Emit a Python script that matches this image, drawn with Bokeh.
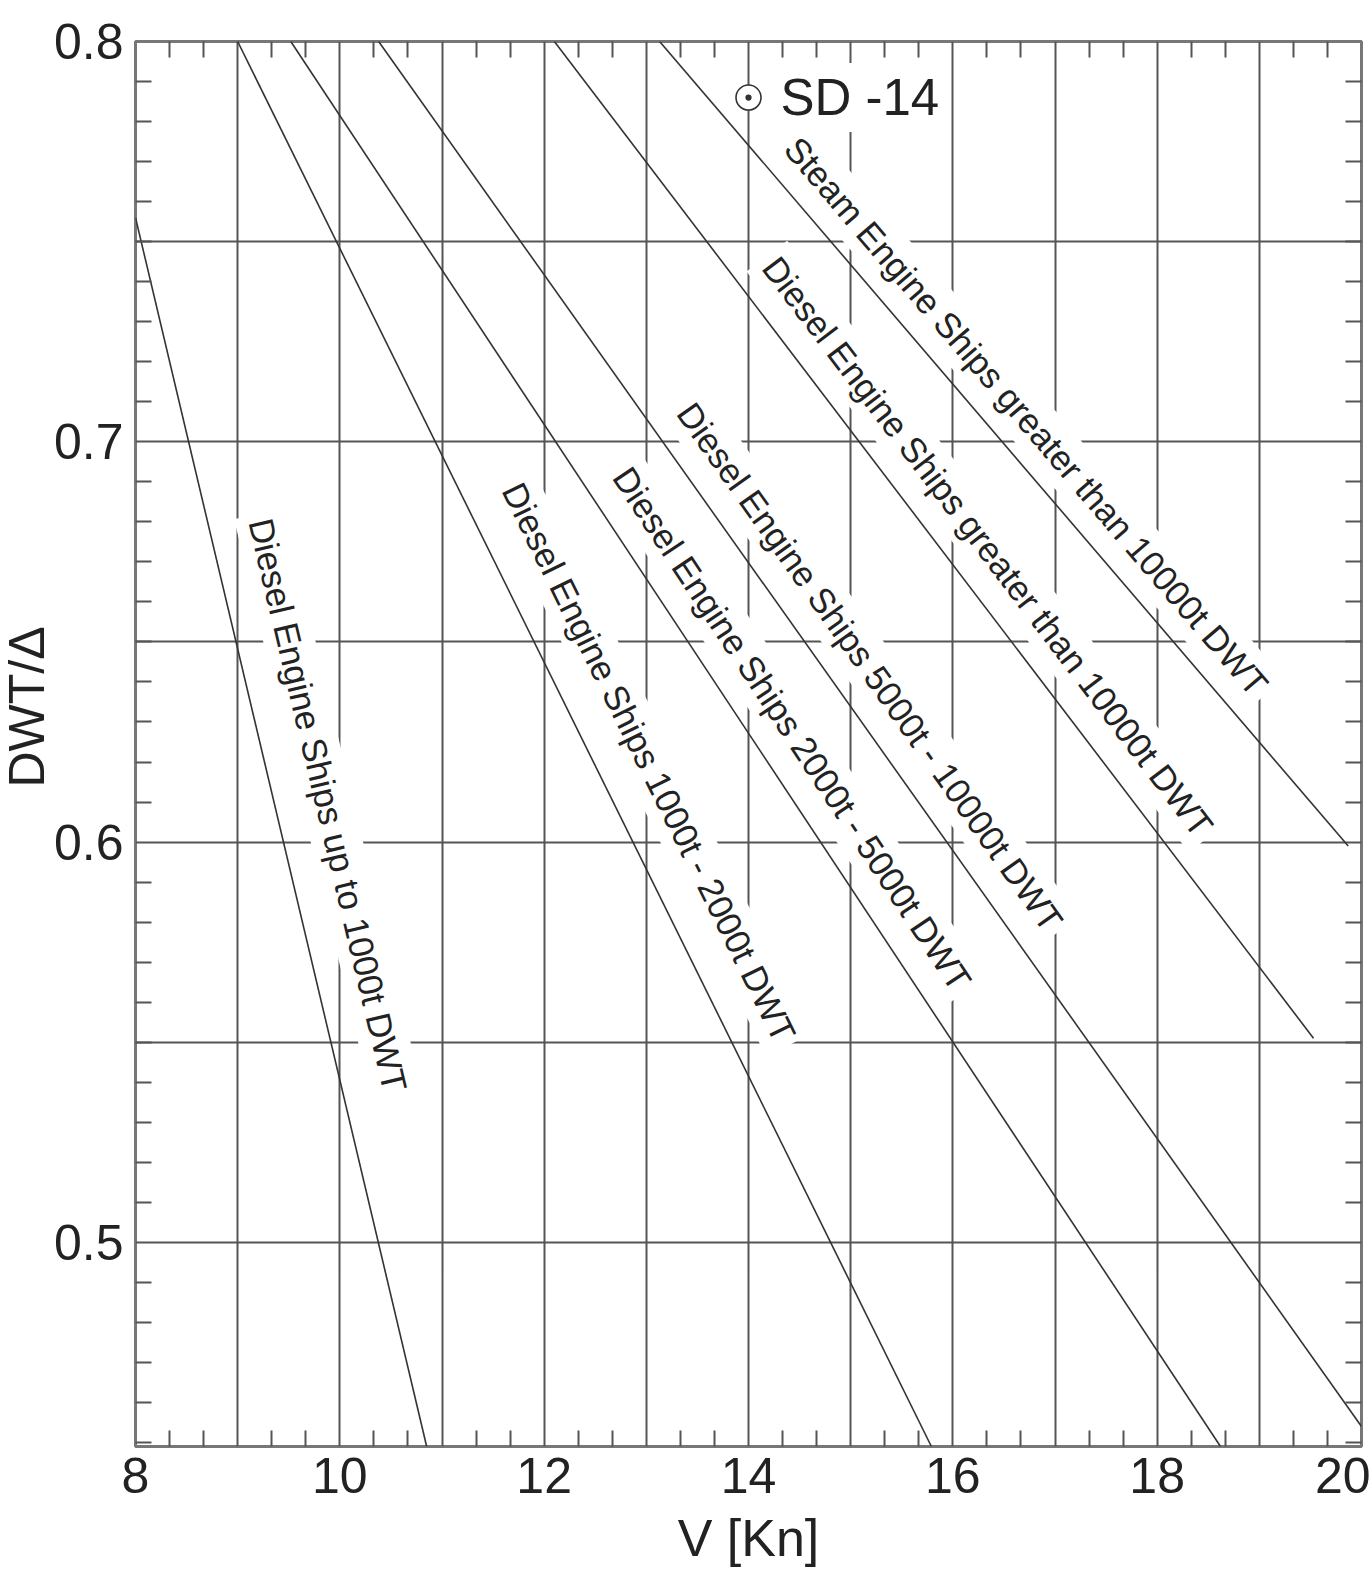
import math

from bokeh.core.properties import value
from bokeh.embed import file_html
from bokeh.models import ColumnDataSource, FixedTicker, LinearAxis, Range1d, Title
from bokeh.plotting import figure
from bokeh.resources import INLINE

# 各線の両端 (V [Kn], DWT/Δ) 図から読み取り
v_start = [8.0, 9.0, 9.52, 10.38, 12.10, 13.13]
dwt_start = [0.756, 0.800, 0.800, 0.800, 0.800, 0.800]
v_end = [10.85, 15.79, 18.62, 20.0, 19.53, 19.87]
dwt_end = [0.449, 0.449, 0.449, 0.454, 0.551, 0.599]
line_names = [
    "Diesel Engine Ships up to 1000t DWT",
    "Diesel Engine Ships 1000t - 2000t DWT",
    "Diesel Engine Ships 2000t - 5000t DWT",
    "Diesel Engine Ships 5000t - 10000t DWT",
    "Diesel Engine Ships greater than 10000t DWT",
    "Steam Engine Ships greater than 10000t DWT",
]
# ラベルの中心が線上のどのVにあるか
label_v = [9.39, 12.59, 14.11, 14.88, 16.04, 16.46]

# SD-14 の点
sd14_v = [14.0]
sd14_dwt = [0.786]
sd14_name = ["SD -14"]

# 目盛り
v_major = [8, 10, 12, 14, 16, 18, 20]
v_minor = [8 + i / 3 for i in range(37) if i % 3]
v_grid = [9, 10, 11, 12, 13, 14, 15, 16, 17, 18, 19]
dwt_major = [0.5, 0.6, 0.7, 0.8]
dwt_minor = [round(0.45 + i * 0.01, 2) for i in range(36) if i % 10 != 5]
dwt_grid = [0.5, 0.55, 0.6, 0.65, 0.7, 0.75]

V_MIN, V_MAX = 8, 20
D_MIN, D_MAX = 0.449, 0.8

# %%
W, H = 1370, 1584
LEFT, RIGHT, TOP, BOTTOM = 135, 9, 41, 138
FRAME_W = W - LEFT - RIGHT
FRAME_H = H - TOP - BOTTOM
FONT = "Liberation Sans"
INK = "#222222"
label_gap = [52, 50, 39, 39, 39, 35]  # 線からラベル中心までの距離(px)

p = figure(
    width=W, height=H,
    x_range=Range1d(V_MIN, V_MAX), y_range=Range1d(D_MIN, D_MAX),
    output_backend="svg", toolbar_location=None,
    min_border_left=LEFT, min_border_right=RIGHT,
    min_border_top=TOP, min_border_bottom=BOTTOM,
)
p.outline_line_color = "#777777"
p.outline_line_width = 3

p.xgrid.ticker = FixedTicker(ticks=v_grid)
p.ygrid.ticker = FixedTicker(ticks=dwt_grid)
p.grid.grid_line_color = "#555555"
p.grid.grid_line_width = 2

bottom_axis = p.below[0]
left_axis = p.left[0]
top_axis = LinearAxis(ticker=FixedTicker(ticks=[], minor_ticks=v_minor))
right_axis = LinearAxis(ticker=FixedTicker(ticks=[], minor_ticks=dwt_minor))
p.add_layout(top_axis, "above")
p.add_layout(right_axis, "right")

bottom_axis.ticker = FixedTicker(ticks=v_major, minor_ticks=v_minor)
left_axis.ticker = FixedTicker(ticks=dwt_major, minor_ticks=dwt_minor)

for ax in [bottom_axis, left_axis, top_axis, right_axis]:
    ax.axis_line_color = None
    ax.major_tick_in = 0
    ax.major_tick_out = 0
    ax.minor_tick_in = 16
    ax.minor_tick_out = 0
    ax.minor_tick_line_color = "#555555"
    ax.minor_tick_line_width = 2
    ax.major_label_text_font = FONT
    ax.major_label_text_font_size = "50px"
    ax.major_label_text_color = INK

for ax in [top_axis, right_axis]:
    ax.major_label_standoff = 0

bottom_axis.axis_label = "V [Kn]"
bottom_axis.major_label_standoff = 11
bottom_axis.axis_label_standoff = 13
bottom_axis.axis_label_text_font = FONT
bottom_axis.axis_label_text_font_size = "52px"
bottom_axis.axis_label_text_font_style = "normal"
bottom_axis.axis_label_text_color = INK
left_axis.major_label_standoff = 12

# 縦軸ラベル (下端から offset px の位置から書き始める)
p.add_layout(Title(
    text="DWT/Δ", align="left", offset=659, standoff=-9,
    text_font=FONT, text_font_size="50px", text_font_style="normal", text_color=INK,
), "left")

# ラベル位置: 線上の点から法線方向にずらす
kx = FRAME_W / (V_MAX - V_MIN)
ky = FRAME_H / (D_MAX - D_MIN)
lab_x, lab_y, lab_angle = [], [], []
for v0, d0, v1, d1, lv, gap in zip(v_start, dwt_start, v_end, dwt_end, label_v, label_gap):
    slope = (d1 - d0) / (v1 - v0)
    ang = math.atan2(slope * ky, kx)
    d_on = d0 + slope * (lv - v0)
    lab_x.append(lv - gap * math.sin(ang) / kx)
    lab_y.append(d_on + gap * math.cos(ang) / ky)
    lab_angle.append(ang)

label_source = ColumnDataSource(data=dict(x=lab_x, y=lab_y, text=line_names, angle=lab_angle))
p.text("x", "y", text="text", angle="angle", source=label_source,
       text_font=value(FONT), text_font_size="35px", text_color=INK,
       text_align="center", text_baseline="middle",
       background_fill_color="white", padding=6)

p.text(x=sd14_v, y=sd14_dwt, text=sd14_name, x_offset=26,
       text_font=value(FONT), text_font_size="51px", text_color=INK,
       text_align="left", text_baseline="middle",
       background_fill_color="white", padding=6)

line_source = ColumnDataSource(data=dict(x0=v_start, y0=dwt_start, x1=v_end, y1=dwt_end))
p.segment("x0", "y0", "x1", "y1", source=line_source, line_color="#333333", line_width=1.6)

p.scatter(sd14_v, sd14_dwt, marker="circle_dot", size=25,
          fill_color="white", line_color="#333333", line_width=1.6)

open("out.html", "w").write(file_html(p, INLINE))
